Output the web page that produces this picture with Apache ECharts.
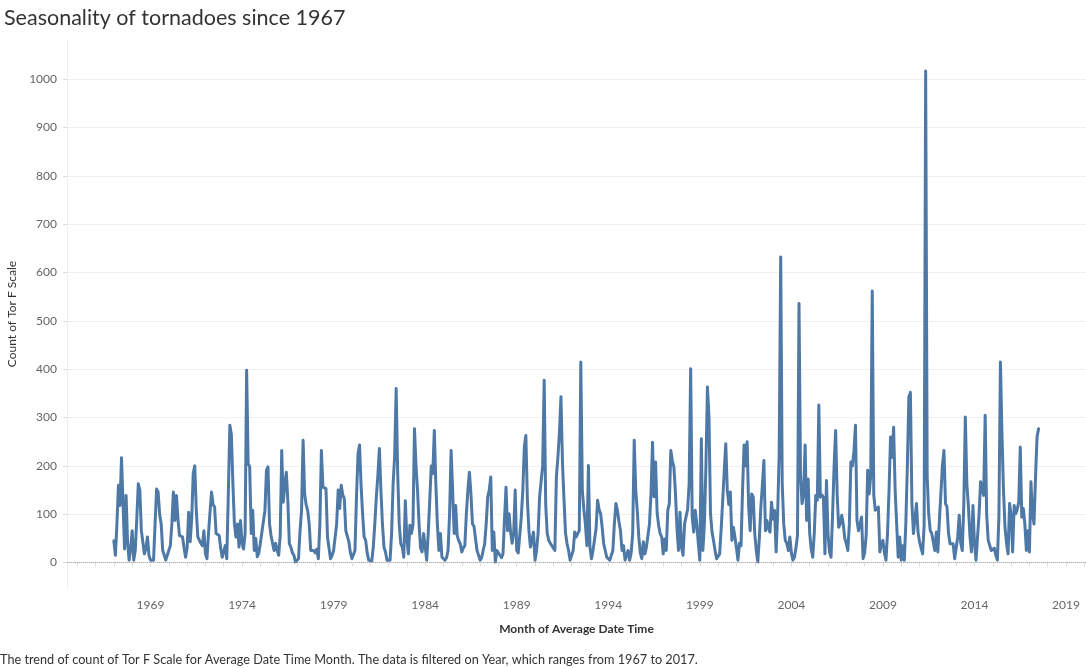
<!DOCTYPE html>
<html>
<head>
<meta charset="utf-8">
<script src="https://cdn.jsdelivr.net/npm/echarts@6/dist/echarts.min.js"></script>
<style>
html,body{margin:0;padding:0;background:#ffffff;}
#chart{width:1086px;height:668px;}
</style>
</head>
<body>
<div id="chart"></div>
<script>
// Monthly counts of "Tor F Scale", January 1967 onward (one row per year)
const startYear = 1967;
const counts1967to1976 = [
  45, 15, 80, 160, 118, 217, 122, 28, 139, 40, 5, 30,
  66, 5, 25, 90, 163, 150, 66, 63, 18, 30, 53, 15,
  5, 5, 5, 80, 152, 146, 100, 80, 25, 25, 5, 15,
  25, 35, 80, 146, 87, 139, 90, 56, 55, 53, 30, 11,
  30, 104, 43, 90, 184, 200, 110, 53, 53, 40, 35, 66,
  18, 8, 60, 104, 146, 120, 115, 60, 60, 56, 30, 11,
  8, 35, 8, 142, 284, 265, 163, 80, 53, 80, 32, 87,
  40, 28, 60, 398, 205, 198, 60, 108, 25, 50, 12, 20,
  40, 63, 66, 108, 191, 198, 80, 56, 40, 25, 40, 25,
  15, 56, 232, 125, 160, 187, 128, 39, 32, 20, 15, 1
];
const counts1977to1986 = [
  5, 8, 66, 108, 253, 142, 120, 108, 80, 25, 25, 25,
  20, 28, 8, 80, 232, 156, 160, 153, 53, 30, 8, 15,
  25, 25, 80, 150, 112, 160, 140, 132, 66, 66, 43, 20,
  8, 8, 25, 136, 225, 243, 160, 101, 53, 46, 20, 5,
  3, 3, 32, 80, 136, 180, 236, 150, 80, 32, 22, 5,
  5, 5, 60, 163, 220, 360, 184, 80, 39, 32, 11, 128,
  50, 18, 77, 60, 77, 277, 200, 150, 80, 30, 22, 60,
  63, 5, 60, 128, 200, 184, 273, 163, 80, 25, 60, 11,
  10, 5, 10, 25, 100, 232, 150, 60, 118, 56, 45, 39,
  22, 30, 35, 101, 150, 187, 142, 80, 75, 73, 25, 22
];
const counts1987to1996 = [
  5, 10, 25, 39, 80, 136, 150, 177, 25, 63, 1, 25,
  25, 15, 10, 18, 90, 156, 66, 101, 63, 40, 60, 150,
  25, 20, 18, 94, 150, 240, 263, 130, 66, 32, 28, 63,
  5, 25, 60, 136, 132, 200, 377, 120, 60, 46, 40, 39,
  30, 25, 177, 218, 270, 343, 205, 130, 60, 39, 25, 5,
  5, 25, 63, 53, 60, 66, 415, 150, 110, 80, 35, 201,
  32, 8, 25, 28, 70, 129, 110, 101, 73, 39, 39, 11,
  8, 5, 5, 25, 80, 122, 108, 85, 66, 25, 35, 5,
  15, 25, 5, 20, 60, 253, 150, 108, 53, 20, 8, 43,
  18, 32, 32, 80, 142, 249, 136, 208, 104, 77, 60, 53
];
const counts1997to2006 = [
  18, 49, 25, 108, 122, 232, 210, 198, 146, 73, 25, 104,
  32, 15, 80, 80, 110, 163, 401, 94, 63, 108, 80, 40,
  5, 256, 25, 80, 200, 363, 301, 101, 63, 45, 25, 8,
  10, 18, 70, 129, 190, 246, 150, 120, 146, 46, 73, 53,
  30, 5, 40, 35, 150, 243, 200, 250, 115, 66, 142, 136,
  60, 25, 1, 50, 115, 160, 211, 66, 87, 70, 63, 125,
  90, 108, 22, 100, 225, 632, 163, 80, 46, 40, 25, 53,
  20, 5, 11, 30, 56, 536, 180, 122, 140, 243, 87, 173,
  60, 28, 11, 60, 139, 129, 326, 135, 140, 135, 18, 170,
  60, 22, 11, 100, 200, 273, 142, 73, 80, 98, 80, 50
];
const counts2007to2017 = [
  40, 25, 80, 208, 200, 230, 284, 87, 66, 80, 94, 8,
  20, 56, 191, 142, 180, 562, 140, 108, 110, 115, 22, 40,
  46, 20, 5, 60, 150, 260, 218, 280, 150, 80, 11, 53,
  5, 35, 5, 80, 200, 343, 352, 122, 60, 63, 122, 63,
  43, 30, 18, 77, 1017, 177, 100, 66, 60, 63, 25, 63,
  22, 87, 87, 201, 232, 122, 115, 60, 39, 43, 39, 8,
  8, 53, 98, 40, 25, 120, 301, 163, 118, 56, 22, 118,
  39, 5, 53, 100, 167, 167, 139, 305, 98, 46, 43, 25,
  25, 30, 15, 5, 94, 415, 267, 150, 73, 40, 18, 122,
  98, 22, 118, 101, 110, 125, 239, 94, 112, 80, 25, 66,
  22, 167, 100, 80, 177, 260, 277
];

const yTickValues = [0, 100, 200, 300, 400, 500, 600, 700, 800, 900, 1000];
const xLabelYears = [1969, 1974, 1979, 1984, 1989, 1994, 1999, 2004, 2009, 2014, 2019];
const xTickYears = [1965, 1966, 1967, 1968, 1969, 1970, 1971, 1972, 1973, 1974, 1975, 1976, 1977,
  1978, 1979, 1980, 1981, 1982, 1983, 1984, 1985, 1986, 1987, 1988, 1989, 1990, 1991, 1992,
  1993, 1994, 1995, 1996, 1997, 1998, 1999, 2000, 2001, 2002, 2003, 2004, 2005, 2006, 2007,
  2008, 2009, 2010, 2011, 2012, 2013, 2014, 2015, 2016, 2017, 2018, 2019, 2020];

const allCounts = [].concat(counts1967to1976, counts1977to1986, counts1987to1996,
                            counts1997to2006, counts2007to2017);
const seriesData = allCounts.map((v, i) => [startYear + i / 12, v]);

const FONT = 'Lato, "Open Sans", sans-serif';
const chart = echarts.init(document.getElementById('chart'), null, {renderer: 'canvas'});
chart.setOption({
  animation: false,
  backgroundColor: '#ffffff',
  title: [
    {
      text: 'Seasonality of tornadoes since 1967',
      left: 0, top: 7, padding: [0, 0, 0, 4],
      textStyle: {fontFamily: FONT, fontSize: 21.5, fontWeight: 'normal', color: '#333333'}
    },
    {
      text: 'The trend of count of Tor F Scale for Average Date Time Month. The data is filtered on Year, which ranges from 1967 to 2017.',
      left: 0, top: 653, padding: 0,
      textStyle: {fontFamily: FONT, fontSize: 12.7, fontWeight: 'normal', color: '#333333'}
    }
  ],
  grid: {left: 67, right: 0, top: 40, bottom: 80, containLabel: false, outerBoundsMode: 'none'},
  xAxis: {
    type: 'value',
    min: 1964.44, max: 2020.09,
    name: 'Month of Average Date Time',
    nameLocation: 'middle', nameGap: 35,
    nameTextStyle: {fontFamily: FONT, fontSize: 12, fontWeight: 'bold', color: '#333333'},
    axisLine: {show: true, lineStyle: {color: '#dddddd', width: 1}},
    axisTick: {show: true, customValues: xTickYears, length: 4, lineStyle: {color: '#dddddd'}},
    axisLabel: {customValues: xLabelYears, color: '#666666', fontFamily: FONT, fontSize: 12, margin: 11,
                formatter: v => String(Math.round(v))},
    splitLine: {show: false}
  },
  yAxis: {
    type: 'value',
    min: -52.6, max: 1081,
    name: 'Count of Tor F Scale',
    nameLocation: 'middle', nameGap: 42, nameRotate: 90,
    nameTextStyle: {fontFamily: FONT, fontSize: 12, color: '#333333'},
    axisLine: {show: true, lineStyle: {color: '#eeeeee', width: 1}},
    axisTick: {show: true, customValues: yTickValues, length: 4, lineStyle: {color: '#dddddd'}},
    axisLabel: {customValues: yTickValues, color: '#666666', fontFamily: FONT, fontSize: 12, margin: 10,
                formatter: v => String(Math.round(v))},
    splitLine: {show: true, lineStyle: {color: '#f0f0f0', width: 1}}
  },
  series: [{
    type: 'line',
    data: seriesData,
    showSymbol: false,
    symbol: 'none',
    lineStyle: {color: '#4e79a7', width: 3, join: 'round', cap: 'round'},
    itemStyle: {color: '#4e79a7'},
    markLine: {
      silent: true, symbol: 'none', label: {show: false},
      lineStyle: {type: 'dotted', color: '#aaaaaa', width: 1},
      data: [{yAxis: 0}]
    },
    z: 3
  }]
});
</script>
</body>
</html>
